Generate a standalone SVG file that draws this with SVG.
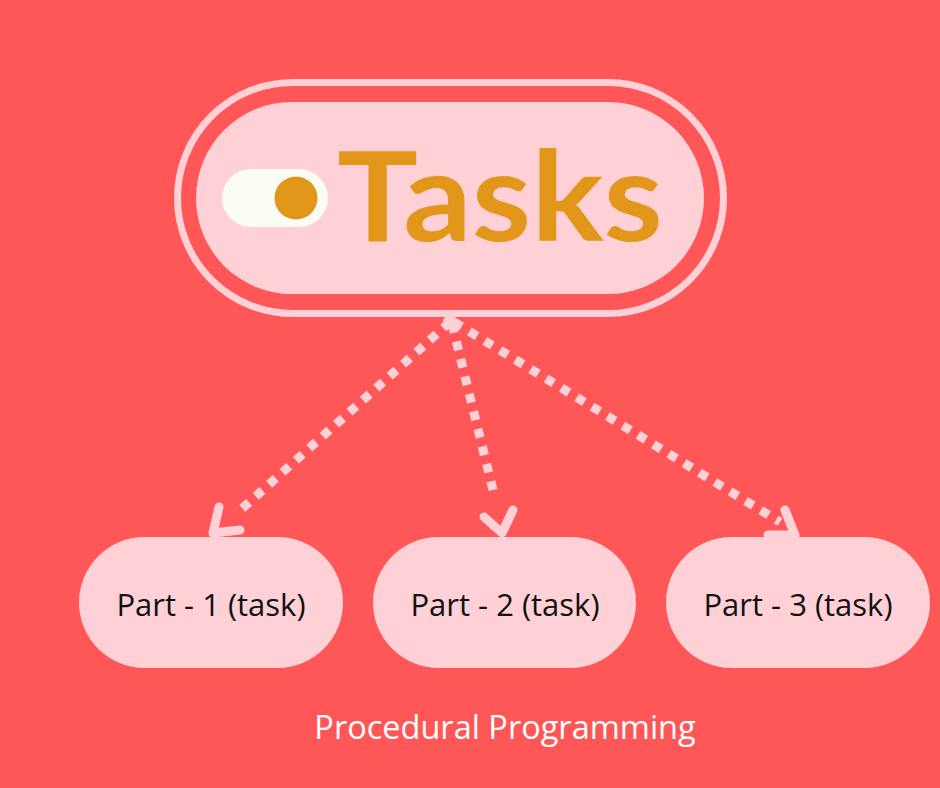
<svg xmlns="http://www.w3.org/2000/svg" width="940" height="788" viewBox="0 0 940 788">
<style>
.pink{fill:#ffd1d6}
.dots{fill:none;stroke:#ffd1d6;stroke-width:9;stroke-dasharray:9 9}
.head{fill:none;stroke:#ffd1d6;stroke-width:9;stroke-linecap:round;stroke-linejoin:round}
.lbl{font-family:"Open Sans","Liberation Sans",sans-serif;font-size:31px;fill:#111;text-anchor:middle}
</style>
<rect width="940" height="788" fill="#ff5757"/>
<g id="tasks">
<rect x="177.5" y="82.5" width="546" height="231" rx="115.5" fill="none" stroke="#ffd1d6" stroke-width="7"/>
<rect x="196" y="102" width="508" height="192" rx="96" class="pink"/>
<rect x="222" y="169" width="106" height="58" rx="29" fill="#fbfdf5"/>
<circle cx="296" cy="198" r="21.5" fill="#e2961a"/>
<text x="337" y="241" font-family="Lato,'Liberation Sans',sans-serif" font-weight="bold" font-size="124" fill="#e2961a" textLength="326" lengthAdjust="spacingAndGlyphs">Tasks</text>
</g>
<g id="connectors">
<path class="dots" d="M450 322 L236 514"/>
<path class="dots" d="M452 324 L494 494"/>
<path class="dots" d="M454 322 L780 522"/>
<path class="head" d="M219 507 L213 533 L240 530"/>
<path class="head" d="M484 517 L502 533 L513 510"/>
<path class="head" d="M785 510 L795 535 L768 535"/>
<circle cx="450" cy="322" r="7" fill="#ffd1d6"/>
</g>
<g id="part1">
<rect x="79" y="537" width="264" height="131" rx="65.5" class="pink"/>
<text x="211" y="616" class="lbl">Part - 1 (task)</text>
</g>
<g id="part2">
<rect x="373" y="537" width="263" height="131" rx="65.5" class="pink"/>
<text x="505" y="616" class="lbl">Part - 2 (task)</text>
</g>
<g id="part3">
<rect x="666" y="537" width="264" height="131" rx="65.5" class="pink"/>
<text x="798" y="616" class="lbl">Part - 3 (task)</text>
</g>
<text x="505" y="739" font-family="'Open Sans','Liberation Sans',sans-serif" font-size="32.5" fill="#ffffff" text-anchor="middle">Procedural Programming</text>
</svg>
